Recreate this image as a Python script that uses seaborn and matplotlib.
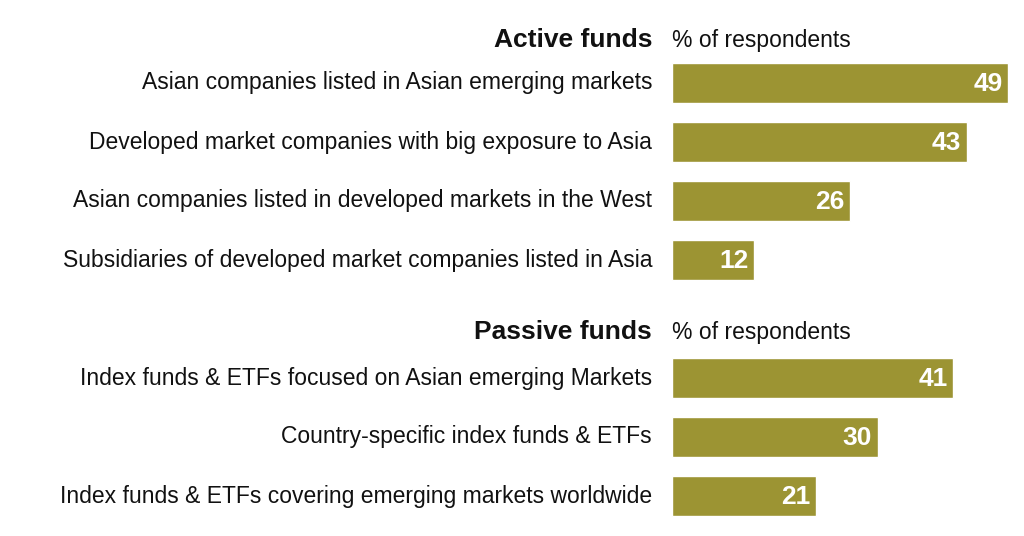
import matplotlib
matplotlib.use("Agg")
import matplotlib.pyplot as plt
import seaborn as sns
import pandas as pd
import numpy as np

active_labels = ["Asian companies listed in Asian emerging markets",
                 "Developed market companies with big exposure to Asia",
                 "Asian companies listed in developed markets in the West",
                 "Subsidiaries of developed market companies listed in Asia"]
active_values = [49, 43, 26, 12]
passive_labels = ["Index funds & ETFs focused on Asian emerging Markets",
                  "Country-specific index funds & ETFs",
                  "Index funds & ETFs covering emerging markets worldwide"]
passive_values = [41, 30, 21]

sns.set_style("white")
plt.rcParams['font.family'] = ['Liberation Sans', 'DejaVu Sans']
color = "#9c9433"

slots = ["_h1"] + active_labels + ["_h2"] + passive_labels
vals = [np.nan] + active_values + [np.nan] + passive_values
df = pd.DataFrame({"label": slots, "value": vals})

fig = plt.figure(figsize=(10.24, 5.36), dpi=100)
ax = fig.add_axes([672/1024, 0, 338/1024, 1])
sns.barplot(data=df, x="value", y="label", order=slots, orient="h",
            color=color, saturation=1, width=0.68, ax=ax)
ax.set_xlim(0, 49.3)
# slot 1 at px 83, slot 8 at px 496 -> 59 px per slot
ax.set_ylim(1 + (536 - 83) / 59, 1 - 83 / 59)
ax.axis("off")
for i, (lab, v) in enumerate(zip(slots, vals)):
    if np.isnan(v):
        continue
    ax.text(-2.9, i, lab, ha="right", va="center", fontsize=16.5, color="#111")
    ax.text(v - 0.8, i + 0.02, str(int(v)), ha="right", va="center",
            fontsize=19, fontweight="bold", color="white")
for y, title in [(1 - 43 / 59, "Active funds"), (5 + 13 / 59, "Passive funds")]:
    ax.text(-2.9, y, title, ha="right", va="center", fontsize=19, fontweight="bold", color="#111")
    ax.text(0, y, "% of respondents", ha="left", va="center", fontsize=16.5, color="#111")
fig.savefig("out.png", dpi=100)
